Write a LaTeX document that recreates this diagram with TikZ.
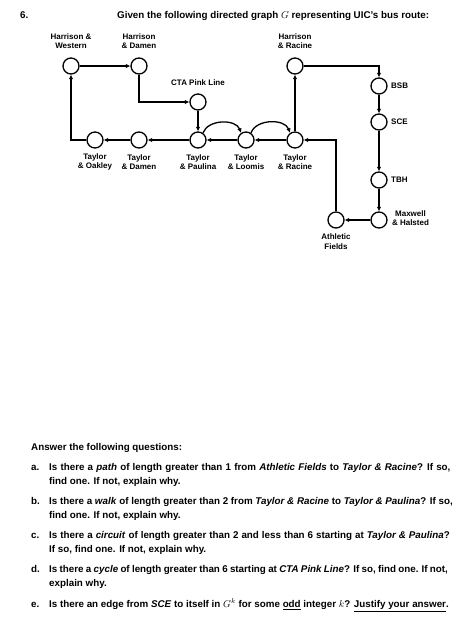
\documentclass[tikz,border=0pt]{standalone}
\usepackage{fontspec}
\setmainfont{Liberation Sans}
\usetikzlibrary{arrows.meta}
\begin{document}
\begin{tikzpicture}[x=1pt,y=-1pt,
 stop/.style={circle,draw,line width=1.3pt,minimum size=16pt,inner sep=0pt},
 lbl/.style={font=\fontsize{8}{9.5}\selectfont\bfseries,align=center,inner sep=0pt},
 sidelbl/.style={font=\fontsize{8}{9.5}\selectfont\bfseries,align=center,inner sep=0pt,anchor=west},
 edge/.style={line width=1.3pt,-{Latex[length=4.5pt,width=4.5pt]}},
 qtext/.style={font=\fontsize{9.8}{12}\selectfont\bfseries,anchor=base west,inner sep=0pt}]
\useasboundingbox[fill=white] (0,0) rectangle (474,622);

% title
\node[qtext] (num) at (20,18.5) {6.};
\node[qtext] (title) at (117,18.5) {Given the following directed graph $G$ representing UIC’s bus route:};

% stops
\node[stop] (HW) at (71,66) {};
\node[stop] (HD) at (139,66) {};
\node[stop] (HR) at (295,66) {};
\node[stop] (CTA) at (198,102) {};
\node[stop] (TO) at (95,140) {};
\node[stop] (TD) at (139,140) {};
\node[stop] (TP) at (198,140) {};
\node[stop] (TL) at (246,140) {};
\node[stop] (TR) at (295,140) {};
\node[stop] (BSB) at (379,86) {};
\node[stop] (SCE) at (379,122) {};
\node[stop] (TBH) at (379,180) {};
\node[stop] (MH) at (379,220) {};
\node[stop] (AF) at (336,220) {};

% labels
\node[lbl] (lHW) at (71,41) {Harrison \&\\Western};
\node[lbl] (lHD) at (139,41) {Harrison\\\& Damen};
\node[lbl] (lHR) at (295,41) {Harrison\\\& Racine};
\node[lbl] (lCTA) at (198,83) {CTA Pink Line};
\node[lbl] (lTO) at (95,162) {Taylor\\\& Oakley};
\node[lbl] (lTD) at (139,162) {Taylor\\\& Damen};
\node[lbl] (lTP) at (198,162) {Taylor\\\& Paulina};
\node[lbl] (lTL) at (246,162) {Taylor\\\& Loomis};
\node[lbl] (lTR) at (295,162) {Taylor\\\& Racine};
\node[sidelbl] (lBSB) at (391,86) {BSB};
\node[sidelbl] (lSCE) at (391,122) {SCE};
\node[sidelbl] (lTBH) at (391,180) {TBH};
\node[lbl] (lMH) at (410.5,218) {Maxwell\\\& Halsted};
\node[lbl] (lAF) at (336,241.5) {Athletic\\Fields};

% edges
\draw[edge] (TO) -| (HW);
\draw[edge] (HW) -- (HD);
\draw[edge] (HD) |- (CTA);
\draw[edge] (CTA) -- (TP);
\draw[edge] (TP) -- (TD);
\draw[edge] (TD) -- (TO);
\draw[edge] (TL) -- (TP);
\draw[edge] (TR) -- (TL);
\draw[edge] (TP.55) to[out=70,in=110] (TL.125);
\draw[edge] (TL.55) to[out=70,in=110] (TR.125);
\draw[edge] (TR) -- (HR);
\draw[edge] (HR) -| (BSB);
\draw[edge] (BSB) -- (SCE);
\draw[edge] (SCE) -- (TBH);
\draw[edge] (TBH) -- (MH);
\draw[edge] (MH) -- (AF);
\draw[edge] (AF) |- (TR);

% questions
\node[qtext] (q0) at (31,450.5) {Answer the following questions:};
\node[qtext] (qa) at (31,470.5) {a.};
\node[qtext] (qa1) at (49,470.5) {\spaceskip=3.2pt Is there a \textit{path} of length greater than 1 from \textit{Athletic Fields} to \textit{Taylor \& Racine}? If so,};
\node[qtext] (qa2) at (49,484.5) {find one. If not, explain why.};
\node[qtext] (qb) at (31,504.5) {b.};
\node[qtext] (qb1) at (49,504.5) {Is there a \textit{walk} of length greater than 2 from \textit{Taylor \& Racine} to \textit{Taylor \& Paulina}? If so,};
\node[qtext] (qb2) at (49,518.5) {find one. If not, explain why.};
\node[qtext] (qc) at (31,538.5) {c.};
\node[qtext] (qc1) at (49,538.5) {\spaceskip=3.0pt Is there a \textit{circuit} of length greater than 2 and less than 6 starting at \textit{Taylor \& Paulina}?};
\node[qtext] (qc2) at (49,552.5) {If so, find one. If not, explain why.};
\node[qtext] (qd) at (31,572.5) {d.};
\node[qtext] (qd1) at (49,572.5) {\spaceskip=2.3pt Is there a \textit{cycle} of length greater than 6 starting at \textit{CTA Pink Line}? If so, find one. If not,};
\node[qtext] (qd2) at (49,586.5) {explain why.};
\node[qtext] (qe) at (31,607.5) {e.};
\node[qtext] (qe1) at (49,607.5) {Is there an edge from \textit{SCE} to itself in $G^k$ for some \underline{odd} integer $k$? \underline{Justify your answer}.};
\end{tikzpicture}
\end{document}
